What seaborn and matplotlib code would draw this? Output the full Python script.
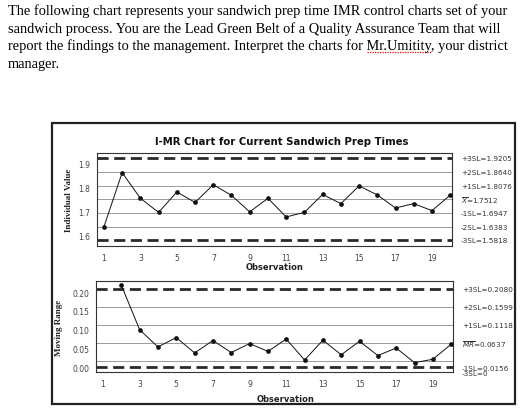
import matplotlib
matplotlib.use("Agg")
import matplotlib.pyplot as plt
import matplotlib.transforms as mtransforms
from matplotlib.patches import Rectangle
from matplotlib.lines import Line2D
import pandas as pd
import seaborn as sns

# Values
observation = list(range(1, 21))
individual = [1.637, 1.861, 1.755, 1.697, 1.781, 1.738, 1.811, 1.767, 1.699, 1.755,
              1.678, 1.697, 1.771, 1.733, 1.806, 1.769, 1.715, 1.733, 1.704, 1.768]
mr_observation = list(range(2, 21))
moving_range = [0.219, 0.100, 0.054, 0.079, 0.038, 0.071, 0.039, 0.063, 0.042, 0.075,
                0.019, 0.072, 0.033, 0.069, 0.031, 0.051, 0.012, 0.021, 0.061]

i_levels = [1.9205, 1.8640, 1.8076, 1.7512, 1.6947, 1.6383, 1.5818]
i_labels = ["+3SL=1.9205", "+2SL=1.8640", "+1SL=1.8076", r"$\overline{X}$=1.7512",
            "-1SL=1.6947", "-2SL=1.6383", "-3SL=1.5818"]
i_limit = [True, False, False, False, False, False, True]

mr_levels = [0.2080, 0.1599, 0.1118, 0.0637, 0.0156, 0.0]
mr_labels = ["+3SL=0.2080", "+2SL=0.1599", "+1SL=0.1118", r"$\overline{MR}$=0.0637",
             "-1SL=0.0156", "-3SL=0"]
mr_limit = [True, False, False, False, False, True]

x_ticks = list(range(1, 20, 2))

question = [
    "The following chart represents your sandwich prep time IMR control charts set of your",
    "sandwich process. You are the Lead Green Belt of a Quality Assurance Team that will",
    "report the findings to the management. Interpret the charts for Mr.Umitity, your district",
    "manager.",
]

sns.set_style("white")
plt.rcParams["font.family"] = ["DejaVu Sans"]

fig = plt.figure(figsize=(5.22, 4.14), dpi=100)
W, H = 522, 414


def fx(px):
    return px / W


def fy(py):
    return 1 - py / H


# question text
for i, line in enumerate(question):
    fig.text(fx(8), fy(15 + 17.6 * i), line, family="Liberation Serif",
             fontsize=10.4, va="baseline", ha="left", color="black")

# red spell-check underline under the name, placed from the measured text
renderer = fig.canvas.get_renderer()
pre = fig.text(fx(8), fy(50), "report the findings to the management. Interpret the charts for ",
               family="Liberation Serif", fontsize=10.4, va="baseline")
word = fig.text(fx(8), fy(50), "Mr.Umitity", family="Liberation Serif", fontsize=10.4,
                va="baseline")
x0 = 8 + pre.get_window_extent(renderer).width
x1 = x0 + word.get_window_extent(renderer).width
pre.remove()
word.remove()
fig.add_artist(Line2D([fx(x0), fx(x1)], [fy(15 + 17.6 * 2 + 3), fy(15 + 17.6 * 2 + 3)],
                      color="red", lw=0.9, ls=(0, (1, 1))))

# chart frame
fig.add_artist(Rectangle((fx(52), fy(405)), fx(515) - fx(52), fy(124) - fy(405),
                         transform=fig.transFigure, fill=False, lw=1.6, ec="#222222"))
fig.text(fx(282), fy(142), "I-MR Chart for Current Sandwich Prep Times",
         ha="center", va="center", fontsize=7.3, fontweight="bold", color="#111111")

ax1 = fig.add_axes([fx(97), fy(247), fx(452) - fx(97), fy(154) - fy(247)])
ax2 = fig.add_axes([fx(96), fy(373), fx(453) - fx(96), fy(282) - fy(373)])

df_i = pd.DataFrame({"Observation": observation, "Value": individual})
df_mr = pd.DataFrame({"Observation": mr_observation, "Range": moving_range})


def draw_levels(ax, levels, labels, limits, shift=None):
    trans = mtransforms.blended_transform_factory(ax.transAxes, ax.transData)
    for k, (lvl, lab, lim) in enumerate(zip(levels, labels, limits)):
        if lim:
            ax.axhline(lvl, color="#2a2a2a", lw=2.0, ls=(0, (4, 2)), zorder=1)
        else:
            ax.axhline(lvl, color="#9a9a9a", lw=0.7, zorder=1)
        t = trans
        if shift and k in shift:
            t = trans + mtransforms.ScaledTranslation(0, -shift[k] / 100, fig.dpi_scale_trans)
        ax.text(1.025, lvl, lab, transform=t, fontsize=5.2, va="center",
                ha="left", color="#333333", clip_on=False)


draw_levels(ax1, i_levels, i_labels, i_limit)
draw_levels(ax2, mr_levels, mr_labels, mr_limit, shift={4: 7, 5: 6})

sns.lineplot(data=df_i, x="Observation", y="Value", ax=ax1, color="#111111",
             lw=0.7, marker="o", markersize=3.4, markeredgewidth=0, zorder=3)
sns.lineplot(data=df_mr, x="Observation", y="Range", ax=ax2, color="#111111",
             lw=0.7, marker="o", markersize=3.4, markeredgewidth=0, zorder=3)

ax1.set_xlim(0.62, 20.1)
ax1.set_ylim(1.558, 1.942)
ax1.set_yticks([1.6, 1.7, 1.8, 1.9])
ax1.set_yticklabels(["1.6", "1.7", "1.8", "1.9"])

ax2.set_xlim(0.62, 20.1)
ax2.set_ylim(-0.013, 0.230)
ax2.set_yticks([0.0, 0.05, 0.10, 0.15, 0.20])
ax2.set_yticklabels(["0.00", "0.05", "0.10", "0.15", "0.20"])

for ax in (ax1, ax2):
    ax.set_xticks(x_ticks)
    ax.set_xticklabels([str(t) for t in x_ticks])
    ax.tick_params(axis="both", direction="out", length=3, width=0.6,
                   labelsize=5.5, labelcolor="#444444", color="#333333", pad=2)
    for sp in ax.spines.values():
        sp.set_color("#333333")
        sp.set_linewidth(0.8)
    ax.set_xlabel("Observation", fontsize=6, fontweight="bold", color="#222222")

ax1.set_ylabel("Individual Value", family="Liberation Serif", fontsize=6.5,
               fontweight="bold", color="#222222")
ax2.set_ylabel("Moving Range", family="Liberation Serif", fontsize=6.5,
               fontweight="bold", color="#222222")
ax1.yaxis.set_label_coords(-0.068, 0.5)
ax2.yaxis.set_label_coords(-0.092, 0.5)
ax1.xaxis.set_label_coords(0.50, -0.17)
ax2.xaxis.set_label_coords(0.53, -0.24)

fig.savefig("out.png", dpi=100)
